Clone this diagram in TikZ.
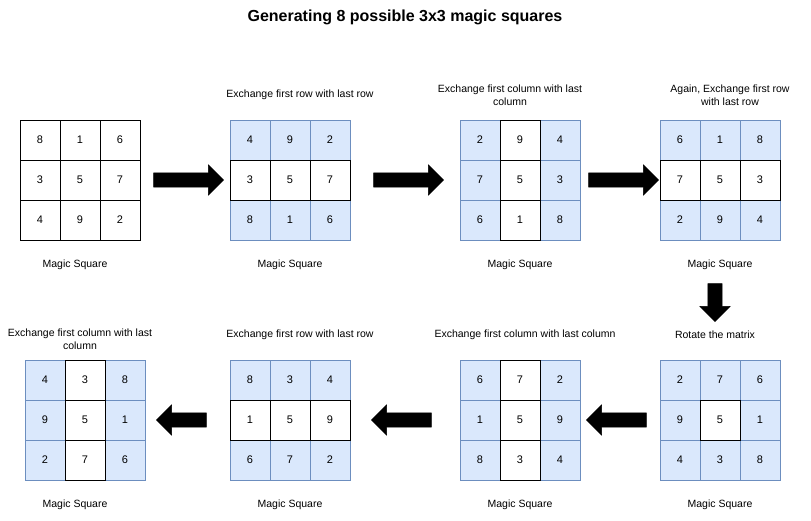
\documentclass[tikz,border=0pt]{standalone}
\usepackage{fontspec}
\setmainfont{Liberation Sans}
\usetikzlibrary{shapes.arrows}
\definecolor{bfill}{HTML}{DAE8FC}
\definecolor{bline}{HTML}{6C8EBF}
\tikzset{
 cellb/.style={draw=bline,fill=bfill,minimum size=40pt,inner sep=0,font=\fontsize{11}{13}\selectfont},
 cellw/.style={draw=black,fill=white,minimum size=40pt,inner sep=0,font=\fontsize{11}{13}\selectfont},
 lbl/.style={font=\fontsize{10.5}{13}\selectfont,align=center},
 blk/.style={single arrow,fill=black,draw=black,minimum height=#1,inner sep=7pt,single arrow head extend=8pt,single arrow tip angle=90},
}
\newcommand\msq[4]{%
 \foreach \v/\b [count=\k from 0] in {#4}{%
  \pgfmathtruncatemacro\r{int(\k/3)}\pgfmathtruncatemacro\c{mod(\k,3)}%
  \ifnum\b=1 \node[cellb] (#1-\k) at (#2+20+40*\c,#3+20+40*\r) {\v};\fi}
 \foreach \v/\b [count=\k from 0] in {#4}{%
  \pgfmathtruncatemacro\r{int(\k/3)}\pgfmathtruncatemacro\c{mod(\k,3)}%
  \ifnum\b=0 \node[cellw] (#1-\k) at (#2+20+40*\c,#3+20+40*\r) {\v};\fi}
}
\begin{document}
\begin{tikzpicture}[x=1pt,y=-1pt]
\useasboundingbox (0,0) rectangle (811,521);
\node[font=\fontsize{16}{18}\selectfont\bfseries] (title) at (405,17) {Generating 8 possible 3x3 magic squares};
\msq{a}{20}{120}{8/0,1/0,6/0,3/0,5/0,7/0,4/0,9/0,2/0}
\msq{b}{230}{120}{4/1,9/1,2/1,3/0,5/0,7/0,8/1,1/1,6/1}
\msq{c}{460}{120}{2/1,9/0,4/1,7/1,5/0,3/1,6/1,1/0,8/1}
\msq{d}{660}{120}{6/1,1/1,8/1,7/0,5/0,3/0,2/1,9/1,4/1}
\msq{e}{660}{360}{2/1,7/1,6/1,9/1,5/0,1/1,4/1,3/1,8/1}
\msq{f}{460}{360}{6/1,7/0,2/1,1/1,5/0,9/1,8/1,3/0,4/1}
\msq{g}{230}{360}{8/1,3/1,4/1,1/0,5/0,9/0,6/1,7/1,2/1}
\msq{h}{25}{360}{4/1,3/0,8/1,9/1,5/0,1/1,2/1,7/0,6/1}
\foreach \n/\x in {a/75,b/290,c/520,d/720}{\node[lbl] (m\n) at (\x,265) {Magic Square};}
\foreach \n/\x in {h/75,g/290,f/520,e/720}{\node[lbl] (m\n) at (\x,505) {Magic Square};}
\node[lbl] (tb) at (300,95) {Exchange first row with last row};
\node[lbl] (tc) at (510,95) {Exchange first column with last\\column};
\node[lbl] (td) at (730,95) {Again, Exchange first row\\with last row};
\node[lbl] (te) at (715,335) {Rotate the matrix};
\node[lbl] (tf) at (525,335) {Exchange first column with last column};
\node[lbl] (tg) at (300,335) {Exchange first row with last row};
\node[lbl] (th) at (80,339) {Exchange first column with last\\column};
\node[blk=70pt] (r1) at (185,180) {};
\node[blk=70pt] (r2) at (405,180) {};
\node[blk=70pt] (r3) at (620,180) {};
\node[blk=38pt,rotate=-90] (r4) at (715,299) {};
\node[blk=60pt,rotate=180] (r5) at (620,420) {};
\node[blk=60pt,rotate=180] (r6) at (405,420) {};
\node[blk=50pt,rotate=180] (r7) at (185,420) {};
\end{tikzpicture}
\end{document}
